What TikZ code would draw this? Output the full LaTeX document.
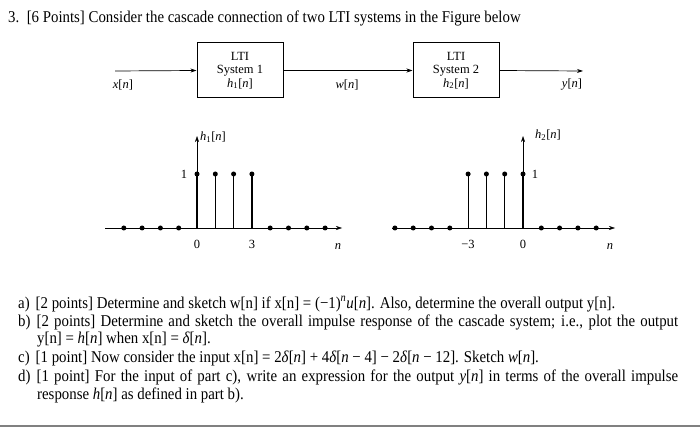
\documentclass[tikz,border=0pt]{standalone}
\usepackage{fontspec}
\setmainfont{Liberation Serif}
\newfontfamily\qfont[FakeStretch=0.9]{Liberation Serif}
\usetikzlibrary{arrows.meta}
\begin{document}
\begin{tikzpicture}[x=1pt,y=-1pt,
  blk/.style={draw,line width=1pt,minimum width=86pt,minimum height=55pt,inner sep=0pt,align=center,font=\fontsize{12.5}{13.5}\selectfont},
  sig/.style={-{Stealth[length=6pt,width=4pt]},line width=0.7pt},
  ax/.style={-{Stealth[length=6pt,width=4pt]},line width=0.5pt},
  stem/.style={line width=1.2pt},
  dot/.style={circle,fill,inner sep=0pt,minimum size=5pt},
  lab/.style={font=\fontsize{12.5}{12.5}\selectfont},
  q/.style={anchor=west,font=\qfont\fontsize{16.5}{17}\selectfont,inner sep=0pt}]
\useasboundingbox (0,0) rectangle (700,427);
% title
\node[q,anchor=west] (title) at (8,18) {3.\ \ [6 Points] Consider the cascade connection of two LTI systems in the Figure below};
% block diagram
\coordinate (in) at (115,71);
\node[blk] (b1) at (240,70.5) {LTI\\System 1\\\textit{h}\textsubscript{1}[\textit{n}]};
\node[blk] (b2) at (456,70.5) {LTI\\System 2\\\textit{h}\textsubscript{2}[\textit{n}]};
\coordinate (out) at (583,71);
\draw[sig] (in) -- (b1.west);
\draw[sig] (b1.east) -- (b2.west);
\draw[sig] (b2.east) -- (out);
\node[lab] (lx) at (123,85) {\textit{x}[\textit{n}]};
\node[lab] (lw) at (347,85) {\textit{w}[\textit{n}]};
\node[lab] (ly) at (572,85) {\textit{y}[\textit{n}]};
% plot 1
\coordinate (a1s) at (105,228); \coordinate (a1e) at (342,228);
\coordinate (o1) at (197,228); \coordinate (t1) at (197,136);
\draw[ax] (a1s) -- (a1e);
\draw[ax] (o1) -- (t1);
\foreach \k in {-4,-3,-2,-1,4,5,6,7} \node[dot] at (197+18.3*\k,228) {};
\foreach \k in {0,1,2,3} {\draw[stem] (197+18.3*\k,228) -- (197+18.3*\k,174); \node[dot] at (197+18.3*\k,174) {};}
\node[lab] (p1l) at (213,137) {\textit{h}\textsubscript{1}[\textit{n}]};
\node[lab] (p1one) at (184,174) {1};
\node[lab] (p1z) at (197,244) {0};
\node[lab] (p1t) at (252,244) {3};
\node[lab] (p1n) at (338,247) {\textit{n}};
% plot 2
\coordinate (a2s) at (392,228); \coordinate (a2e) at (615,228);
\coordinate (o2) at (523,228); \coordinate (t2) at (523,136);
\draw[ax] (a2s) -- (a2e);
\draw[ax] (o2) -- (t2);
\foreach \k in {-7,-6,-5,-4,1,2,3,4} \node[dot] at (523+18.3*\k,228) {};
\foreach \k in {-3,-2,-1,0} {\draw[stem] (523+18.3*\k,228) -- (523+18.3*\k,174); \node[dot] at (523+18.3*\k,174) {};}
\node[lab] (p2l) at (548,135) {\textit{h}\textsubscript{2}[\textit{n}]};
\node[lab] (p2one) at (535,174) {1};
\node[lab] (p2m) at (468,244) {\textminus3};
\node[lab] (p2z) at (523,244) {0};
\node[lab] (p2n) at (610,247) {\textit{n}};
% questions
\node[q] (qa) at (18,304) {a)\hspace{6pt}[2 points] Determine and sketch w[n] if x[n] = (−1)\textsuperscript{\textit{n}}\textit{u}[\textit{n}]. Also, determine the overall output y[n].};
\node[q] (qb) at (18,322) {\makebox[660pt][s]{b)\hspace{6pt}[2 points] Determine and sketch the overall impulse response of the cascade system; i.e., plot the output}};
\node[q] (qb2) at (37,340) {y[n] = \textit{h}[\textit{n}] when x[n] = \textit{δ}[\textit{n}].};
\node[q] (qc) at (18,358) {c)\hspace{6pt}[1 point] Now consider the input x[n] = 2\textit{δ}[\textit{n}] + 4\textit{δ}[\textit{n} − 4] − 2\textit{δ}[\textit{n} − 12]. Sketch \textit{w}[\textit{n}].};
\node[q] (qd) at (18,377) {\makebox[660pt][s]{d)\hspace{6pt}[1 point] For the input of part c), write an expression for the output \textit{y}[\textit{n}] in terms of the overall impulse}};
\node[q] (qd2) at (37,395) {response \textit{h}[\textit{n}] as defined in part b).};
\draw[gray,line width=3pt] (0,426) -- (700,426);
\end{tikzpicture}
\end{document}
